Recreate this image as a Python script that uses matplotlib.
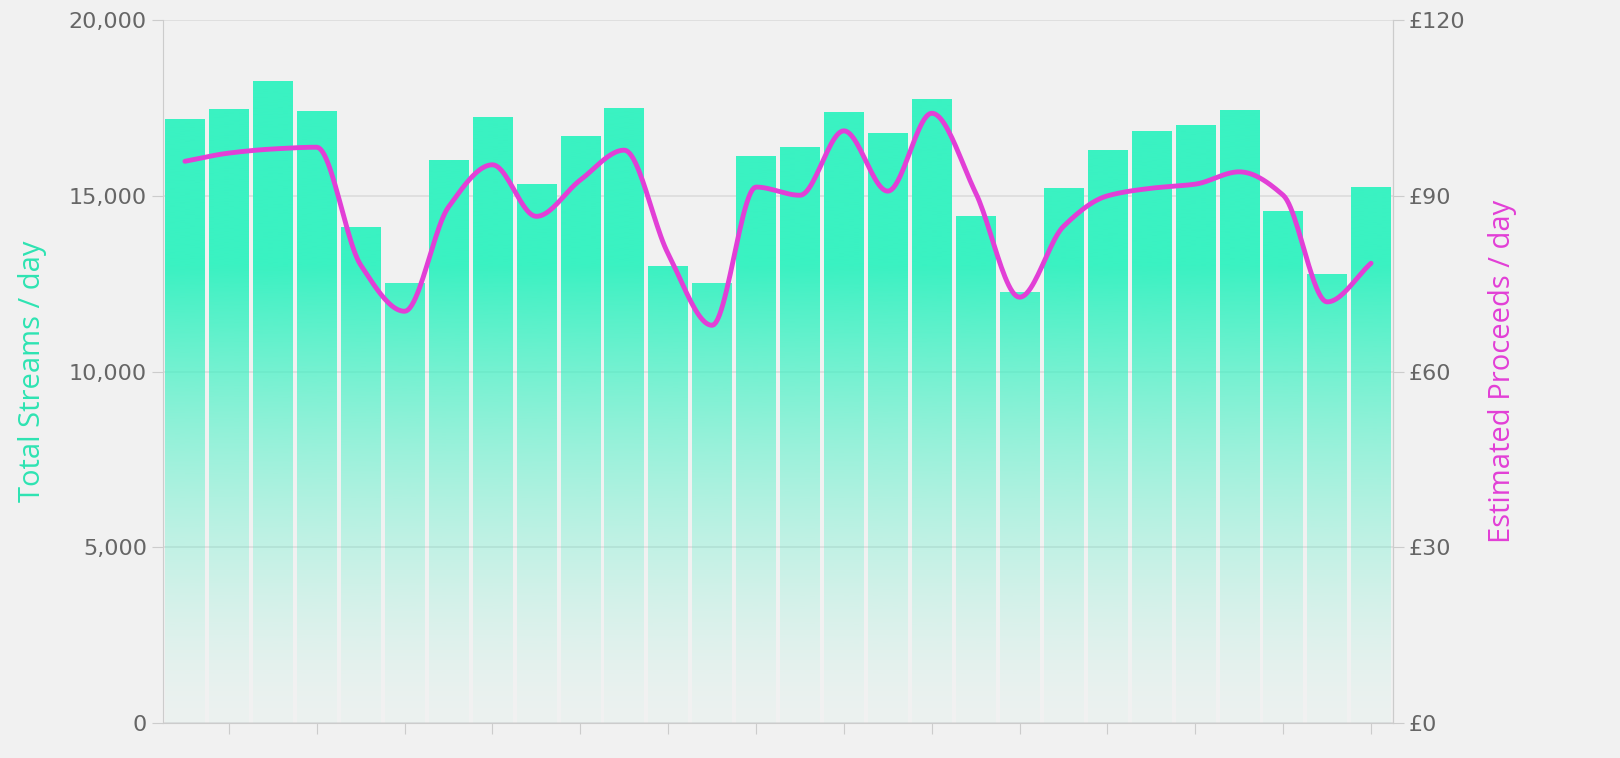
import numpy as np
import matplotlib
matplotlib.use("Agg")
import matplotlib.pyplot as plt
from matplotlib.ticker import FuncFormatter, FixedLocator

streams = [17180, 17470, 18260, 17410, 14110, 12520, 16020, 17240, 15330, 16700,
           17500, 13000, 12520, 16130, 16390, 17380, 16790, 17750, 14420, 12260,
           15220, 16300, 16840, 17010, 17440, 14570, 12770, 15250]
proceeds = [95.9, 97.3, 98.0, 98.3, 78.2, 70.3, 88.1, 95.3, 86.5, 92.7,
            97.8, 80.1, 67.9, 91.5, 90.1, 101.1, 90.8, 104.1, 90.5, 72.7,
            84.8, 90.0, 91.3, 92.0, 94.1, 90.1, 71.9, 78.5]

bg = "#f1f1f1"
green = "#3af2c2"
magenta = "#e23fd6"

fig = plt.figure(figsize=(16.2, 7.58), dpi=100, facecolor=bg)
ax = fig.add_axes([0.1006, 0.046, 0.7593, 0.9275])
ax.set_facecolor(bg)
n = len(streams)
x = np.arange(n)

grad = np.linspace(0, 1, 256).reshape(-1, 1)
alpha = np.clip(grad * 20000 / 13000, 0, 1) ** 1.5 * 0.97 + 0.03
rgb = np.array(matplotlib.colors.to_rgb(green))
img = np.zeros((256, 1, 4))
img[..., :3] = rgb
img[..., 3] = alpha
bars = ax.bar(x, streams, width=0.9, color="none", edgecolor="none", zorder=2)
for b in bars:
    im = ax.imshow(img, extent=(-0.5, n - 0.5, 0, 20000), origin="lower",
                   aspect="auto", zorder=2, interpolation="bilinear")
    im.set_clip_path(b)
ax.set_xlim(-0.5, n - 0.5)
ax.set_ylim(0, 20000)

ax.grid(axis="y", color="#dcdcdc", lw=1.2, zorder=0)
ax.set_axisbelow(True)
ax.spines["top"].set_visible(False)
for s in ["left", "right", "bottom"]:
    ax.spines[s].set_color("#cccccc")
ax.yaxis.set_major_locator(FixedLocator([0, 5000, 10000, 15000, 20000]))
ax.yaxis.set_major_formatter(FuncFormatter(lambda v, p: f"{int(v):,}"))
ax.set_xticks(x[1::2])
ax.set_xticklabels([])
ax.tick_params(axis="x", length=8, color="#cccccc")
ax.tick_params(axis="y", length=8, color="#cccccc", labelsize=16, labelcolor="#666666")
ax.set_ylabel("Total Streams / day", color="#2ee3b2", fontsize=21, family="Open Sans", labelpad=16)

ax2 = ax.twinx()
ax2.set_ylim(0, 120)
ax2.set_yticks([0, 30, 60, 90, 120])
ax2.yaxis.set_major_formatter(FuncFormatter(lambda v, p: f"£{int(v)}"))
ax2.tick_params(axis="y", length=8, color="#cccccc", labelsize=16, labelcolor="#666666")
for s in ["top", "left", "bottom"]:
    ax2.spines[s].set_visible(False)
ax2.spines["right"].set_color("#cccccc")
ax2.set_ylabel("Estimated Proceeds / day", color=magenta, fontsize=21, family="Open Sans", labelpad=16)

# monotone cubic (Fritsch-Carlson) smoothing for drawing
p = np.array(proceeds, dtype=float)
d = np.diff(p)
m = np.zeros(n)
m[0], m[-1] = d[0], d[-1]
for i in range(1, n - 1):
    if d[i - 1] * d[i] > 0:
        m[i] = 2 / (1 / d[i - 1] + 1 / d[i])
xs, ys = [], []
for i in range(n - 1):
    t = np.linspace(0, 1, 24, endpoint=False)
    h00 = 2 * t**3 - 3 * t**2 + 1
    h10 = t**3 - 2 * t**2 + t
    h01 = -2 * t**3 + 3 * t**2
    h11 = t**3 - t**2
    ys.extend(h00 * p[i] + h10 * m[i] + h01 * p[i + 1] + h11 * m[i + 1])
    xs.extend(i + t)
xs.append(n - 1); ys.append(p[-1])
ax2.plot(xs, ys, color=magenta, lw=3.5, zorder=5, solid_capstyle="round")

fig.savefig("out.png", dpi=100, facecolor=bg)
